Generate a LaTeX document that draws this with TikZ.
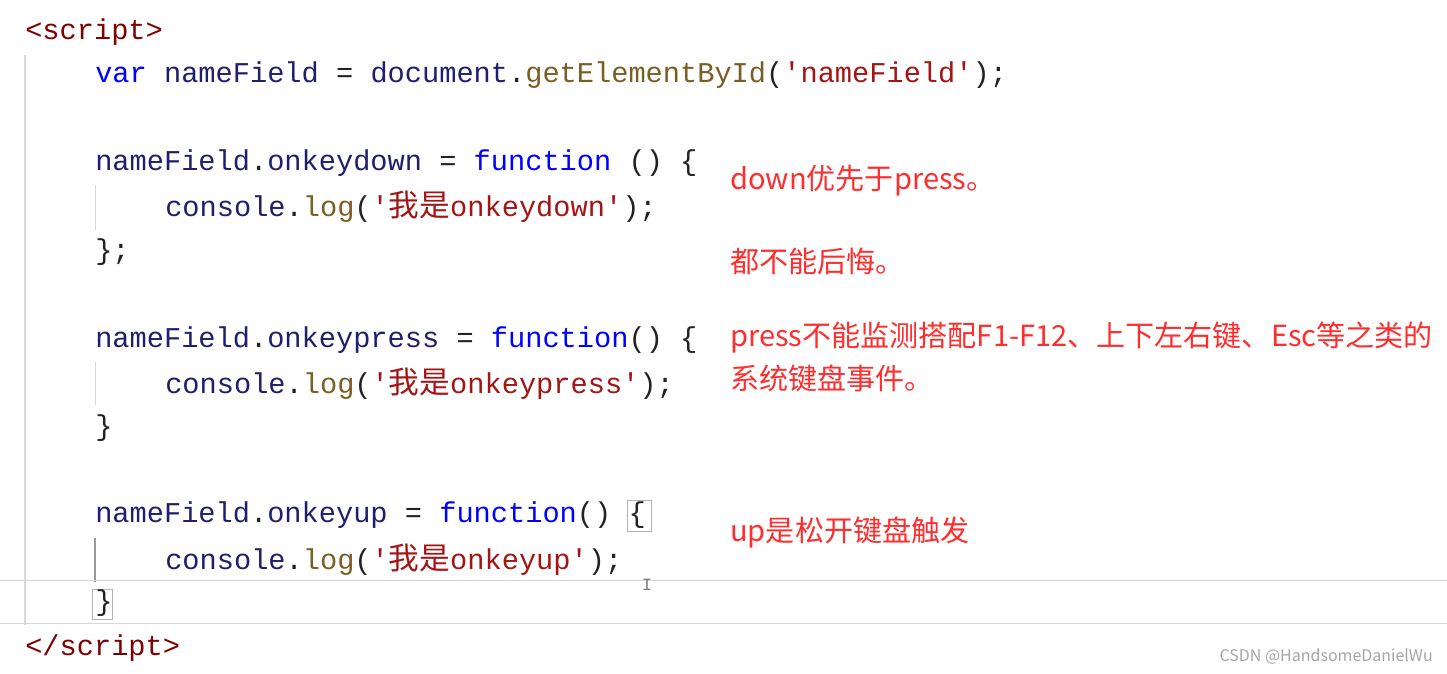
\documentclass[tikz,border=0pt]{standalone}
\usepackage{fontspec}
\setmonofont{Liberation Mono}
\newfontfamily\cjk{Noto Sans CJK SC}
\definecolor{kw}{HTML}{0000FF}
\definecolor{id}{HTML}{1F1F6E}
\definecolor{fn}{HTML}{795E26}
\definecolor{st}{HTML}{A31515}
\definecolor{tg}{HTML}{800000}
\definecolor{pu}{HTML}{222222}
\definecolor{an}{HTML}{FF2D2D}
\definecolor{gd}{HTML}{D8D8D8}
\begin{document}
\begin{tikzpicture}[x=0.75pt,y=-0.75pt,
  code/.style={anchor=west,inner sep=0pt,font=\fontsize{21.5}{24}\selectfont\ttfamily,text=pu},
  note/.style={anchor=west,inner sep=0pt,font=\cjk\fontsize{21.8}{24}\selectfont,text=an}]
\useasboundingbox (0,0) rectangle (1447,674);
\fill[white] (0,0) rectangle (1447,674);
% guides
\draw[gd,line width=0.8pt] (25,55) -- (25,625);
\draw[gd] (95,185) -- (95,230);
\draw[gd] (95,362) -- (95,405);
\draw[gray!80,line width=1pt] (95,538) -- (95,582);
\draw[gd] (0,580) -- (1447,580);
\draw[gd] (0,623) -- (1447,623);
\draw[gray!60] (627,500) rectangle (651,531);
\draw[gray!60] (92,589) rectangle (112,619);
% code
\node[code] (l1) at (25,32) {\textcolor{tg}{<script>}};
\node[code] (l2) at (95,75) {\textcolor{kw}{var} \textcolor{id}{nameField} = \textcolor{id}{document}.\textcolor{fn}{getElementById}(\textcolor{st}{'nameField'});};
\node[code] (l3) at (95,163) {\textcolor{id}{nameField}.\textcolor{id}{onkeydown} = \textcolor{kw}{function} () \{};
\node[code] (l4) at (165,207) {\textcolor{id}{console}.\textcolor{fn}{log}(\textcolor{st}{'{\cjk\fontsize{23}{24}\selectfont 我是}onkeydown'});};
\node[code] (l5) at (95,252) {\};};
\node[code] (l6) at (95,340) {\textcolor{id}{nameField}.\textcolor{id}{onkeypress} = \textcolor{kw}{function}() \{};
\node[code] (l7) at (165,384) {\textcolor{id}{console}.\textcolor{fn}{log}(\textcolor{st}{'{\cjk\fontsize{23}{24}\selectfont 我是}onkeypress'});};
\node[code] (l8) at (95,428) {\}};
\node[code] (l9) at (95,515) {\textcolor{id}{nameField}.\textcolor{id}{onkeyup} = \textcolor{kw}{function}() \{};
\node[code] (l10) at (165,560) {\textcolor{id}{console}.\textcolor{fn}{log}(\textcolor{st}{'{\cjk\fontsize{23}{24}\selectfont 我是}onkeyup'});};
\node[code] (l11) at (95,603) {\}};
\node[code] (l12) at (25,648) {\textcolor{tg}{</script>}};
\node[anchor=center,inner sep=0pt,font=\ttfamily\fontsize{13}{14}\selectfont,text=gray] (cur) at (647,585) {I};
% notes
\node[note] (n1) at (730,181) {down优先于press。};
\node[note] (n2) at (730,261) {都不能后悔。};
\node[note] (n3) at (730,338) {press不能监测搭配F1-F12、上下左右键、Esc等之类的};
\node[note] (n4) at (730,378) {系统键盘事件。};
\node[note] (n5) at (730,532) {up是松开键盘触发};
\node[anchor=east,inner sep=0pt,font=\cjk\fontsize{12}{14}\selectfont,text=gray!70] (wm) at (1433,657) {CSDN @HandsomeDanielWu};
\end{tikzpicture}
\end{document}
